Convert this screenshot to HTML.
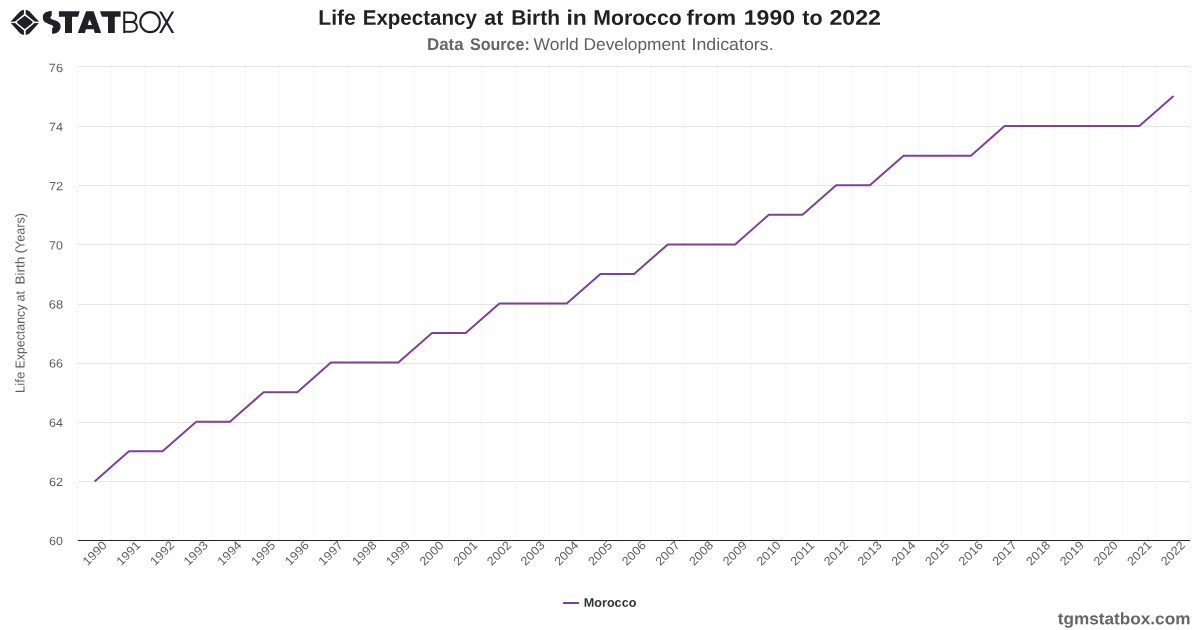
<!DOCTYPE html>
<html lang="en"><head><meta charset="utf-8"><title>Life Expectancy at Birth in Morocco from 1990 to 2022</title>
<style>html,body{margin:0;padding:0;background:#fff}body{width:1200px;height:630px;overflow:hidden;position:relative;font-family:"Liberation Sans", sans-serif}svg{position:absolute;left:0;top:0;display:block;will-change:transform}svg text{font-family:"Liberation Sans", sans-serif;white-space:pre}</style></head><body>
<svg width="1200" height="630" viewBox="0 0 1200 630">
<rect width="1200" height="630" fill="#ffffff"/>
<g id="grid" shape-rendering="crispEdges">
<line x1="77.5" y1="67" x2="77.5" y2="541" stroke="#e6e6e6" stroke-width="1" stroke-dasharray="1,3"/>
<line x1="111.5" y1="67" x2="111.5" y2="541" stroke="#e6e6e6" stroke-width="1" stroke-dasharray="1,3"/>
<line x1="144.5" y1="67" x2="144.5" y2="541" stroke="#e6e6e6" stroke-width="1" stroke-dasharray="1,3"/>
<line x1="178.5" y1="67" x2="178.5" y2="541" stroke="#e6e6e6" stroke-width="1" stroke-dasharray="1,3"/>
<line x1="212.5" y1="67" x2="212.5" y2="541" stroke="#e6e6e6" stroke-width="1" stroke-dasharray="1,3"/>
<line x1="245.5" y1="67" x2="245.5" y2="541" stroke="#e6e6e6" stroke-width="1" stroke-dasharray="1,3"/>
<line x1="279.5" y1="67" x2="279.5" y2="541" stroke="#e6e6e6" stroke-width="1" stroke-dasharray="1,3"/>
<line x1="313.5" y1="67" x2="313.5" y2="541" stroke="#e6e6e6" stroke-width="1" stroke-dasharray="1,3"/>
<line x1="347.5" y1="67" x2="347.5" y2="541" stroke="#e6e6e6" stroke-width="1" stroke-dasharray="1,3"/>
<line x1="380.5" y1="67" x2="380.5" y2="541" stroke="#e6e6e6" stroke-width="1" stroke-dasharray="1,3"/>
<line x1="414.5" y1="67" x2="414.5" y2="541" stroke="#e6e6e6" stroke-width="1" stroke-dasharray="1,3"/>
<line x1="448.5" y1="67" x2="448.5" y2="541" stroke="#e6e6e6" stroke-width="1" stroke-dasharray="1,3"/>
<line x1="481.5" y1="67" x2="481.5" y2="541" stroke="#e6e6e6" stroke-width="1" stroke-dasharray="1,3"/>
<line x1="515.5" y1="67" x2="515.5" y2="541" stroke="#e6e6e6" stroke-width="1" stroke-dasharray="1,3"/>
<line x1="549.5" y1="67" x2="549.5" y2="541" stroke="#e6e6e6" stroke-width="1" stroke-dasharray="1,3"/>
<line x1="582.5" y1="67" x2="582.5" y2="541" stroke="#e6e6e6" stroke-width="1" stroke-dasharray="1,3"/>
<line x1="616.5" y1="67" x2="616.5" y2="541" stroke="#e6e6e6" stroke-width="1" stroke-dasharray="1,3"/>
<line x1="650.5" y1="67" x2="650.5" y2="541" stroke="#e6e6e6" stroke-width="1" stroke-dasharray="1,3"/>
<line x1="684.5" y1="67" x2="684.5" y2="541" stroke="#e6e6e6" stroke-width="1" stroke-dasharray="1,3"/>
<line x1="717.5" y1="67" x2="717.5" y2="541" stroke="#e6e6e6" stroke-width="1" stroke-dasharray="1,3"/>
<line x1="751.5" y1="67" x2="751.5" y2="541" stroke="#e6e6e6" stroke-width="1" stroke-dasharray="1,3"/>
<line x1="785.5" y1="67" x2="785.5" y2="541" stroke="#e6e6e6" stroke-width="1" stroke-dasharray="1,3"/>
<line x1="818.5" y1="67" x2="818.5" y2="541" stroke="#e6e6e6" stroke-width="1" stroke-dasharray="1,3"/>
<line x1="852.5" y1="67" x2="852.5" y2="541" stroke="#e6e6e6" stroke-width="1" stroke-dasharray="1,3"/>
<line x1="886.5" y1="67" x2="886.5" y2="541" stroke="#e6e6e6" stroke-width="1" stroke-dasharray="1,3"/>
<line x1="919.5" y1="67" x2="919.5" y2="541" stroke="#e6e6e6" stroke-width="1" stroke-dasharray="1,3"/>
<line x1="953.5" y1="67" x2="953.5" y2="541" stroke="#e6e6e6" stroke-width="1" stroke-dasharray="1,3"/>
<line x1="987.5" y1="67" x2="987.5" y2="541" stroke="#e6e6e6" stroke-width="1" stroke-dasharray="1,3"/>
<line x1="1021.5" y1="67" x2="1021.5" y2="541" stroke="#e6e6e6" stroke-width="1" stroke-dasharray="1,3"/>
<line x1="1054.5" y1="67" x2="1054.5" y2="541" stroke="#e6e6e6" stroke-width="1" stroke-dasharray="1,3"/>
<line x1="1088.5" y1="67" x2="1088.5" y2="541" stroke="#e6e6e6" stroke-width="1" stroke-dasharray="1,3"/>
<line x1="1122.5" y1="67" x2="1122.5" y2="541" stroke="#e6e6e6" stroke-width="1" stroke-dasharray="1,3"/>
<line x1="1155.5" y1="67" x2="1155.5" y2="541" stroke="#e6e6e6" stroke-width="1" stroke-dasharray="1,3"/>
<line x1="1190.5" y1="67" x2="1190.5" y2="541" stroke="#e6e6e6" stroke-width="1" stroke-dasharray="1,3"/>
<line x1="78" y1="66.5" x2="1190" y2="66.5" stroke="#e6e6e6" stroke-width="1"/>
<line x1="78" y1="126.5" x2="1190" y2="126.5" stroke="#e6e6e6" stroke-width="1"/>
<line x1="78" y1="185.5" x2="1190" y2="185.5" stroke="#e6e6e6" stroke-width="1"/>
<line x1="78" y1="244.5" x2="1190" y2="244.5" stroke="#e6e6e6" stroke-width="1"/>
<line x1="78" y1="304.5" x2="1190" y2="304.5" stroke="#e6e6e6" stroke-width="1"/>
<line x1="78" y1="363.5" x2="1190" y2="363.5" stroke="#e6e6e6" stroke-width="1"/>
<line x1="78" y1="422.5" x2="1190" y2="422.5" stroke="#e6e6e6" stroke-width="1"/>
<line x1="78" y1="481.5" x2="1190" y2="481.5" stroke="#e6e6e6" stroke-width="1"/>
<line x1="78" y1="540.5" x2="1190" y2="540.5" stroke="#262626" stroke-width="1"/>
</g>
<polyline id="series" points="95.20,480.88 128.88,451.31 162.56,451.31 196.24,421.75 229.92,421.75 263.60,392.19 297.29,392.19 330.97,362.62 364.65,362.62 398.33,362.62 432.01,333.06 465.69,333.06 499.37,303.50 533.05,303.50 566.73,303.50 600.41,273.94 634.10,273.94 667.78,244.38 701.46,244.38 735.14,244.38 768.82,214.81 802.50,214.81 836.18,185.25 869.86,185.25 903.54,155.69 937.23,155.69 970.91,155.69 1004.59,126.12 1038.27,126.12 1071.95,126.12 1105.63,126.12 1139.31,126.12 1172.99,96.56" fill="none" stroke="#7c4294" stroke-width="2" stroke-linejoin="round" stroke-linecap="round"/>
<line id="legline" x1="563" y1="603" x2="579" y2="603" stroke="#7c4294" stroke-width="2"/>
<g id="logo" fill="#202026">
<!-- diamond icon -->
<path d="M10 22.35 L20 11.55 Q21.62 9.8 24.8 9.8 Q27.98 9.8 29.6 11.55 L39.6 22.35 L29.6 33.15 Q27.98 34.9 24.8 34.9 Q21.62 34.9 20 33.15 Z"/>
<path d="M14.2 22.35 L24.8 13.55 L35.4 22.35 L24.8 31.15 Z" fill="#fff"/>
<rect x="23.95" y="8" width="1.7" height="29" fill="#fff"/>
<rect x="9" y="21.65" width="32" height="1.4" fill="#fff"/>
<path d="M18.3 22.35 L24.8 17.15 L31.3 22.35 L24.8 27.55 Z" stroke="#202026" stroke-width="2.6" stroke-linejoin="round"/>
<!-- S -->
<path d="M51.7 11.1 L51.7 15.4 C51.2 16.2 50.4 16.6 50.4 17.5 C50.4 19.5 55 19.8 58 21.8 C59.8 23 60.6 24.5 60.6 26.4 C60.6 31 57 33.7 52.1 33.7 L52.1 28.3 C52.6 27.8 53.3 27.6 53.3 27 C53.3 25 48.5 24.4 45.6 22.6 C43.8 21.4 42.8 19.6 42.8 17.4 C42.8 13.3 46.5 11.1 51.7 11.1 Z"/>
<!-- T -->
<path d="M58.9 11.2 L79.7 11.2 L78 16.8 L72 16.8 L72 32.9 L65 32.9 L65 16.8 L58.9 16.8 Z"/>
<!-- A -->
<path fill-rule="evenodd" d="M86.1 11.2 L93.6 11.2 L101.2 32.9 L94.7 32.9 L93.8 29.3 L85.9 29.3 L84.9 32.9 L77.8 32.9 Z M89.5 19.4 L92 25 L87.7 25 Z"/>
<!-- T -->
<path d="M99.9 11.2 L120.6 11.2 L120.6 16.8 L114.8 16.8 L114.8 32.9 L108 32.9 L108 16.8 L102 16.8 Z"/>
<!-- BOX thin -->
<g fill="none" stroke="#202026" stroke-width="2.1">
<path d="M124.25 11.5 L124.25 32.9 M124.25 12.6 L131 12.6 C138 12.6 138 22 131 22 L124.25 22 M131 22 C138.8 22 138.8 31.8 131 31.8 L124.25 31.8"/>
<ellipse cx="150.1" cy="22.15" rx="9.75" ry="10"/>
</g>
<path d="M159.1 11.6 L161.6 11.6 L174.2 32.9 L171.7 32.9 Z M171.7 11.6 L174.2 11.6 L161.6 32.9 L159.1 32.9 Z"/>
</g>

<g id="texts">
<text id="t0" transform="translate(318.27,24.75) rotate(0.03)" textLength="37.55" lengthAdjust="spacingAndGlyphs" font-size="21" font-weight="bold" fill="#202026">Life</text>
<text id="t1" transform="translate(362.72,24.75) rotate(0.03)" textLength="114.08" lengthAdjust="spacingAndGlyphs" font-size="21" font-weight="bold" fill="#202026">Expectancy</text>
<text id="t2" transform="translate(484.27,24.75) rotate(0.03)" textLength="18.98" lengthAdjust="spacingAndGlyphs" font-size="21" font-weight="bold" fill="#202026">at</text>
<text id="t3" transform="translate(511.20,24.75) rotate(0.03)" textLength="48.80" lengthAdjust="spacingAndGlyphs" font-size="21" font-weight="bold" fill="#202026">Birth</text>
<text id="t4" transform="translate(566.42,24.75) rotate(0.03)" textLength="20.40" lengthAdjust="spacingAndGlyphs" font-size="21" font-weight="bold" fill="#202026">in</text>
<text id="t5" transform="translate(593.27,24.75) rotate(0.03)" textLength="88.39" lengthAdjust="spacingAndGlyphs" font-size="21" font-weight="bold" fill="#202026">Morocco</text>
<text id="t6" transform="translate(686.61,24.75) rotate(0.03)" textLength="49.56" lengthAdjust="spacingAndGlyphs" font-size="21" font-weight="bold" fill="#202026">from</text>
<text id="t7" transform="translate(743.72,24.75) rotate(0.03)" textLength="51.36" lengthAdjust="spacingAndGlyphs" font-size="21" font-weight="bold" fill="#202026">1990</text>
<text id="t8" transform="translate(802.22,24.75) rotate(0.03)" textLength="20.31" lengthAdjust="spacingAndGlyphs" font-size="21" font-weight="bold" fill="#202026">to</text>
<text id="t9" transform="translate(829.39,24.75) rotate(0.03)" textLength="51.59" lengthAdjust="spacingAndGlyphs" font-size="21" font-weight="bold" fill="#202026">2022</text>
<text id="s0" transform="translate(426.98,49.90) rotate(0.03)" textLength="36.65" lengthAdjust="spacingAndGlyphs" font-size="17" font-weight="bold" fill="#666">Data</text>
<text id="s1" transform="translate(470.04,49.90) rotate(0.03)" textLength="59.77" lengthAdjust="spacingAndGlyphs" font-size="17" font-weight="bold" fill="#666">Source:</text>
<text id="s2" transform="translate(533.60,49.90) rotate(0.03)" textLength="45.18" lengthAdjust="spacingAndGlyphs" font-size="17" font-weight="normal" fill="#5f5f5f">World</text>
<text id="s3" transform="translate(583.50,49.90) rotate(0.03)" textLength="101.99" lengthAdjust="spacingAndGlyphs" font-size="17" font-weight="normal" fill="#5f5f5f">Development</text>
<text id="s4" transform="translate(691.47,49.90) rotate(0.03)" textLength="82.20" lengthAdjust="spacingAndGlyphs" font-size="17" font-weight="normal" fill="#5f5f5f">Indicators.</text>
<text id="y76" transform="translate(48.87,72.00) rotate(0.03)" textLength="14.14" lengthAdjust="spacingAndGlyphs" font-size="12" font-weight="normal" fill="#5c5c5c">76</text>
<text id="y74" transform="translate(48.99,131.12) rotate(0.03)" textLength="14.04" lengthAdjust="spacingAndGlyphs" font-size="12" font-weight="normal" fill="#5c5c5c">74</text>
<text id="y72" transform="translate(48.94,190.25) rotate(0.03)" textLength="14.35" lengthAdjust="spacingAndGlyphs" font-size="12" font-weight="normal" fill="#5c5c5c">72</text>
<text id="y70" transform="translate(49.00,249.38) rotate(0.03)" textLength="13.89" lengthAdjust="spacingAndGlyphs" font-size="12" font-weight="normal" fill="#5c5c5c">70</text>
<text id="y68" transform="translate(48.82,308.50) rotate(0.03)" textLength="14.35" lengthAdjust="spacingAndGlyphs" font-size="12" font-weight="normal" fill="#5c5c5c">68</text>
<text id="y66" transform="translate(49.05,367.62) rotate(0.03)" textLength="14.07" lengthAdjust="spacingAndGlyphs" font-size="12" font-weight="normal" fill="#5c5c5c">66</text>
<text id="y64" transform="translate(48.95,426.75) rotate(0.03)" textLength="13.88" lengthAdjust="spacingAndGlyphs" font-size="12" font-weight="normal" fill="#5c5c5c">64</text>
<text id="y62" transform="translate(48.97,485.88) rotate(0.03)" textLength="14.11" lengthAdjust="spacingAndGlyphs" font-size="12" font-weight="normal" fill="#5c5c5c">62</text>
<text id="y60" transform="translate(49.12,545.00) rotate(0.03)" textLength="13.89" lengthAdjust="spacingAndGlyphs" font-size="12" font-weight="normal" fill="#5c5c5c">60</text>
<text id="leg" transform="translate(583.73,606.80) rotate(0.03)" textLength="52.67" lengthAdjust="spacingAndGlyphs" font-size="12.5" font-weight="bold" fill="#333">Morocco</text>
<text id="cred" transform="translate(1057.73,624.30) rotate(0.03)" textLength="132.72" lengthAdjust="spacingAndGlyphs" font-size="16.5" font-weight="bold" fill="#666">tgmstatbox.com</text>
<text id="yt0" transform="translate(24.60,393.09) rotate(-89.97)" textLength="21.54" lengthAdjust="spacingAndGlyphs" font-size="13" font-weight="normal" fill="#5f5f5f">Life</text>
<text id="yt1" transform="translate(24.60,368.51) rotate(-89.97)" textLength="63.91" lengthAdjust="spacingAndGlyphs" font-size="13" font-weight="normal" fill="#5f5f5f">Expectancy</text>
<text id="yt2" transform="translate(24.60,301.55) rotate(-89.97)" textLength="10.56" lengthAdjust="spacingAndGlyphs" font-size="13" font-weight="normal" fill="#5f5f5f">at</text>
<text id="yt3" transform="translate(24.60,284.53) rotate(-89.97)" textLength="27.91" lengthAdjust="spacingAndGlyphs" font-size="13" font-weight="normal" fill="#5f5f5f">Birth</text>
<text id="yt4" transform="translate(24.60,253.36) rotate(-89.97)" textLength="40.46" lengthAdjust="spacingAndGlyphs" font-size="13" font-weight="normal" fill="#5f5f5f">(Years)</text>
<text id="x0" transform="translate(107.58,546.07) rotate(-45)" text-anchor="end" textLength="28.41" lengthAdjust="spacingAndGlyphs" font-size="12" font-weight="normal" fill="#5c5c5c">1990</text>
<text id="x1" transform="translate(141.28,546.07) rotate(-45)" text-anchor="end" textLength="28.41" lengthAdjust="spacingAndGlyphs" font-size="12" font-weight="normal" fill="#5c5c5c">1991</text>
<text id="x2" transform="translate(174.98,546.07) rotate(-45)" text-anchor="end" textLength="28.41" lengthAdjust="spacingAndGlyphs" font-size="12" font-weight="normal" fill="#5c5c5c">1992</text>
<text id="x3" transform="translate(208.67,546.07) rotate(-45)" text-anchor="end" textLength="28.41" lengthAdjust="spacingAndGlyphs" font-size="12" font-weight="normal" fill="#5c5c5c">1993</text>
<text id="x4" transform="translate(242.37,546.07) rotate(-45)" text-anchor="end" textLength="28.41" lengthAdjust="spacingAndGlyphs" font-size="12" font-weight="normal" fill="#5c5c5c">1994</text>
<text id="x5" transform="translate(276.07,546.07) rotate(-45)" text-anchor="end" textLength="28.41" lengthAdjust="spacingAndGlyphs" font-size="12" font-weight="normal" fill="#5c5c5c">1995</text>
<text id="x6" transform="translate(309.76,546.07) rotate(-45)" text-anchor="end" textLength="28.41" lengthAdjust="spacingAndGlyphs" font-size="12" font-weight="normal" fill="#5c5c5c">1996</text>
<text id="x7" transform="translate(343.46,546.07) rotate(-45)" text-anchor="end" textLength="28.41" lengthAdjust="spacingAndGlyphs" font-size="12" font-weight="normal" fill="#5c5c5c">1997</text>
<text id="x8" transform="translate(377.16,546.07) rotate(-45)" text-anchor="end" textLength="28.41" lengthAdjust="spacingAndGlyphs" font-size="12" font-weight="normal" fill="#5c5c5c">1998</text>
<text id="x9" transform="translate(410.85,546.07) rotate(-45)" text-anchor="end" textLength="28.41" lengthAdjust="spacingAndGlyphs" font-size="12" font-weight="normal" fill="#5c5c5c">1999</text>
<text id="x10" transform="translate(444.55,546.07) rotate(-45)" text-anchor="end" textLength="28.41" lengthAdjust="spacingAndGlyphs" font-size="12" font-weight="normal" fill="#5c5c5c">2000</text>
<text id="x11" transform="translate(478.25,546.07) rotate(-45)" text-anchor="end" textLength="28.41" lengthAdjust="spacingAndGlyphs" font-size="12" font-weight="normal" fill="#5c5c5c">2001</text>
<text id="x12" transform="translate(511.95,546.07) rotate(-45)" text-anchor="end" textLength="28.41" lengthAdjust="spacingAndGlyphs" font-size="12" font-weight="normal" fill="#5c5c5c">2002</text>
<text id="x13" transform="translate(545.64,546.07) rotate(-45)" text-anchor="end" textLength="28.41" lengthAdjust="spacingAndGlyphs" font-size="12" font-weight="normal" fill="#5c5c5c">2003</text>
<text id="x14" transform="translate(579.34,546.07) rotate(-45)" text-anchor="end" textLength="28.41" lengthAdjust="spacingAndGlyphs" font-size="12" font-weight="normal" fill="#5c5c5c">2004</text>
<text id="x15" transform="translate(613.04,546.07) rotate(-45)" text-anchor="end" textLength="28.41" lengthAdjust="spacingAndGlyphs" font-size="12" font-weight="normal" fill="#5c5c5c">2005</text>
<text id="x16" transform="translate(646.73,546.07) rotate(-45)" text-anchor="end" textLength="28.41" lengthAdjust="spacingAndGlyphs" font-size="12" font-weight="normal" fill="#5c5c5c">2006</text>
<text id="x17" transform="translate(680.43,546.07) rotate(-45)" text-anchor="end" textLength="28.41" lengthAdjust="spacingAndGlyphs" font-size="12" font-weight="normal" fill="#5c5c5c">2007</text>
<text id="x18" transform="translate(714.13,546.07) rotate(-45)" text-anchor="end" textLength="28.41" lengthAdjust="spacingAndGlyphs" font-size="12" font-weight="normal" fill="#5c5c5c">2008</text>
<text id="x19" transform="translate(747.82,546.07) rotate(-45)" text-anchor="end" textLength="28.41" lengthAdjust="spacingAndGlyphs" font-size="12" font-weight="normal" fill="#5c5c5c">2009</text>
<text id="x20" transform="translate(781.52,546.07) rotate(-45)" text-anchor="end" textLength="28.41" lengthAdjust="spacingAndGlyphs" font-size="12" font-weight="normal" fill="#5c5c5c">2010</text>
<text id="x21" transform="translate(815.22,546.07) rotate(-45)" text-anchor="end" textLength="28.41" lengthAdjust="spacingAndGlyphs" font-size="12" font-weight="normal" fill="#5c5c5c">2011</text>
<text id="x22" transform="translate(848.91,546.07) rotate(-45)" text-anchor="end" textLength="28.41" lengthAdjust="spacingAndGlyphs" font-size="12" font-weight="normal" fill="#5c5c5c">2012</text>
<text id="x23" transform="translate(882.61,546.07) rotate(-45)" text-anchor="end" textLength="28.41" lengthAdjust="spacingAndGlyphs" font-size="12" font-weight="normal" fill="#5c5c5c">2013</text>
<text id="x24" transform="translate(916.31,546.07) rotate(-45)" text-anchor="end" textLength="28.41" lengthAdjust="spacingAndGlyphs" font-size="12" font-weight="normal" fill="#5c5c5c">2014</text>
<text id="x25" transform="translate(950.01,546.07) rotate(-45)" text-anchor="end" textLength="28.41" lengthAdjust="spacingAndGlyphs" font-size="12" font-weight="normal" fill="#5c5c5c">2015</text>
<text id="x26" transform="translate(983.70,546.07) rotate(-45)" text-anchor="end" textLength="28.41" lengthAdjust="spacingAndGlyphs" font-size="12" font-weight="normal" fill="#5c5c5c">2016</text>
<text id="x27" transform="translate(1017.40,546.07) rotate(-45)" text-anchor="end" textLength="28.41" lengthAdjust="spacingAndGlyphs" font-size="12" font-weight="normal" fill="#5c5c5c">2017</text>
<text id="x28" transform="translate(1051.10,546.07) rotate(-45)" text-anchor="end" textLength="28.41" lengthAdjust="spacingAndGlyphs" font-size="12" font-weight="normal" fill="#5c5c5c">2018</text>
<text id="x29" transform="translate(1084.79,546.07) rotate(-45)" text-anchor="end" textLength="28.41" lengthAdjust="spacingAndGlyphs" font-size="12" font-weight="normal" fill="#5c5c5c">2019</text>
<text id="x30" transform="translate(1118.49,546.07) rotate(-45)" text-anchor="end" textLength="28.41" lengthAdjust="spacingAndGlyphs" font-size="12" font-weight="normal" fill="#5c5c5c">2020</text>
<text id="x31" transform="translate(1152.19,546.07) rotate(-45)" text-anchor="end" textLength="28.41" lengthAdjust="spacingAndGlyphs" font-size="12" font-weight="normal" fill="#5c5c5c">2021</text>
<text id="x32" transform="translate(1185.88,546.07) rotate(-45)" text-anchor="end" textLength="28.41" lengthAdjust="spacingAndGlyphs" font-size="12" font-weight="normal" fill="#5c5c5c">2022</text>
</g>

</svg></body></html>
